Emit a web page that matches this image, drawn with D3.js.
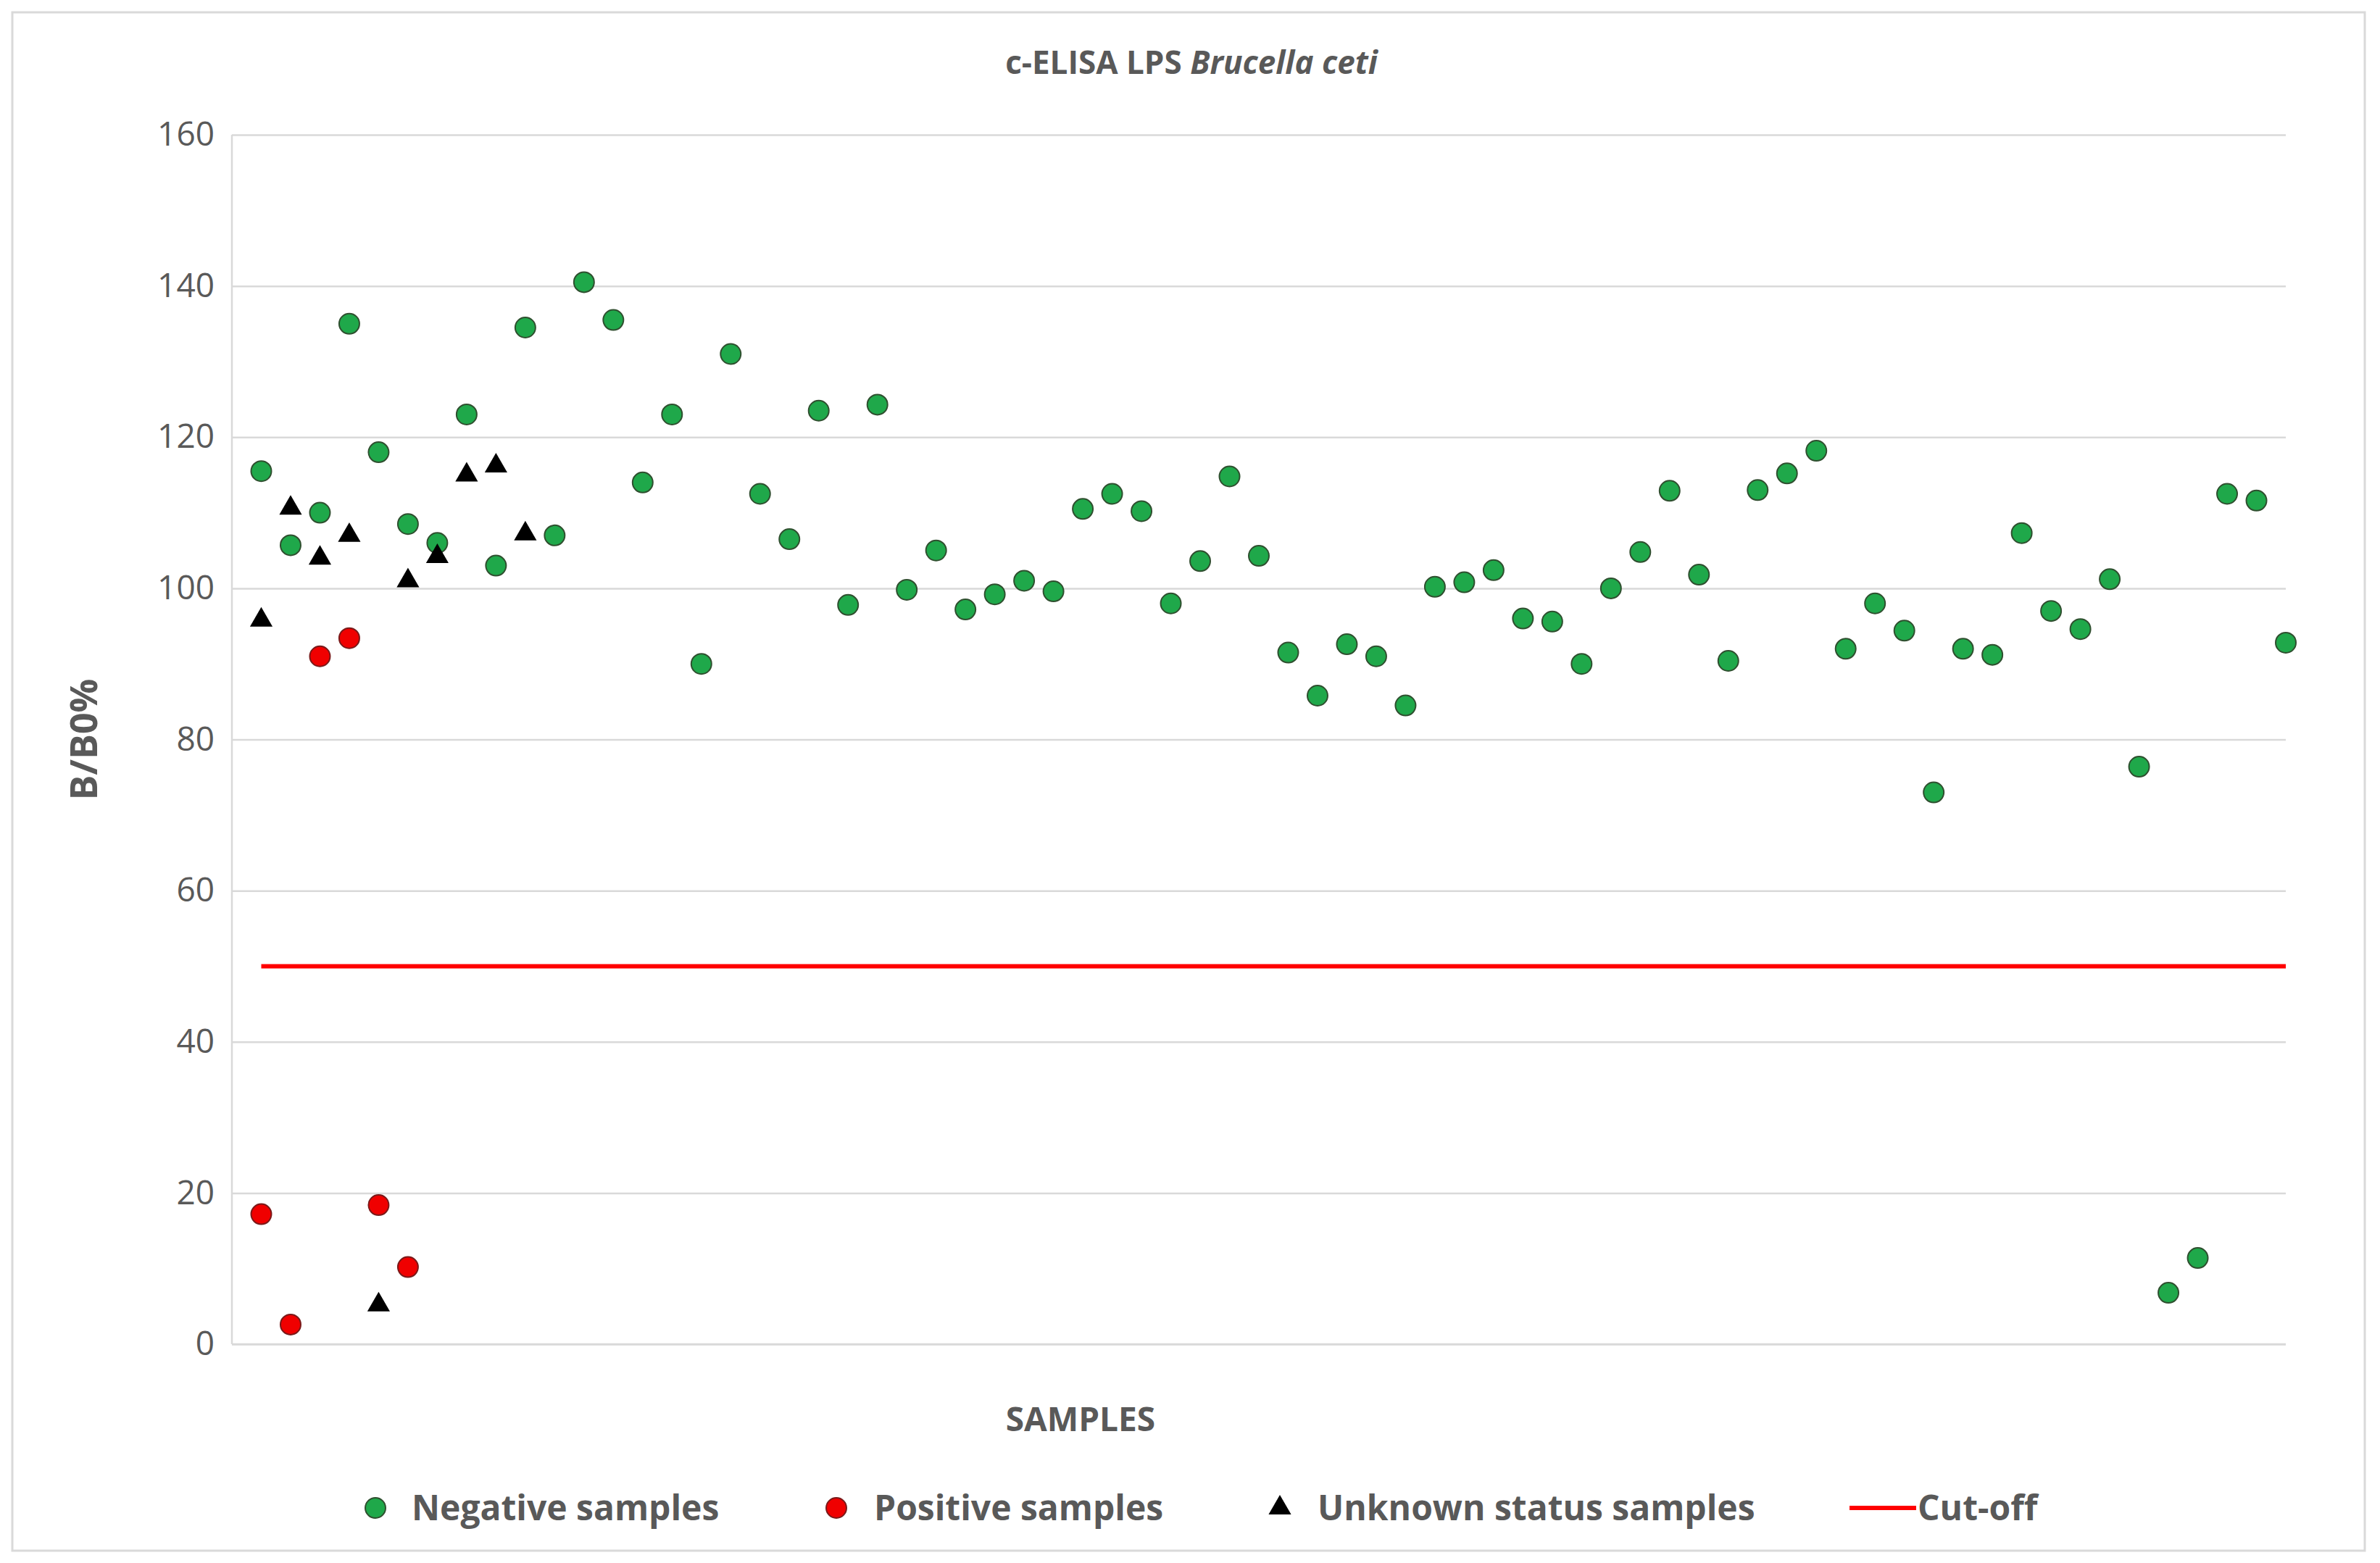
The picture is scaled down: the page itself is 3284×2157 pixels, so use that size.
<!DOCTYPE html>
<html><head><meta charset="utf-8">
<script src="https://cdn.jsdelivr.net/npm/d3@7/dist/d3.min.js"></script>
<style>body{margin:0;background:#fff}text{font-family:"Open Sans","Noto Sans",sans-serif}</style>
</head><body><svg id="c" width="3284" height="2157"></svg>
<script>
const negative = [115.5,105.7,110,135,118,108.5,106,123,103,134.5,107,140.5,135.5,114,123,90,131,112.5,106.5,123.5,97.8,124.3,99.8,105,97.2,99.2,101,99.6,110.5,112.5,110.2,98,103.6,114.8,104.3,91.5,85.8,92.6,91,84.5,100.2,100.8,102.4,96,95.6,90,100,104.8,112.9,101.8,90.4,113,115.2,118.2,92,98,94.4,73,92,91.2,107.3,97,94.6,101.2,76.4,6.8,11.4,112.5,111.6,92.8];
const positive = [17.2,2.6,91,93.4,18.4,10.2];
const unknown = [95.8,110.6,104,107,5.2,101,104.2,115,116.2,107.2];
const cutoff = 50;
const yTicks = [0,20,40,60,80,100,120,140,160];

const svg = d3.select("#c");
svg.append("rect").attr("x",17).attr("y",17).attr("width",3246).attr("height",2123).attr("fill","#fff").attr("stroke","#d9d9d9").attr("stroke-width",3);
const L=320,R=3154,T=186,B=1855;
const x = d3.scaleLinear().domain([0,70]).range([L,R]);
const y = d3.scaleLinear().domain([0,160]).range([B,T]);
const ga = svg.append("g").attr("transform",`translate(${L},0)`)
  .call(d3.axisLeft(y).tickValues(yTicks).tickSize(-(R-L)).tickPadding(24));
ga.select(".domain").remove();
ga.selectAll(".tick line").attr("stroke","#d9d9d9").attr("stroke-width",2.5);
ga.selectAll(".tick text").attr("font-size",46).attr("fill","#595959");
svg.append("line").attr("x1",L).attr("x2",L).attr("y1",T).attr("y2",B).attr("stroke","#d9d9d9").attr("stroke-width",2.5);
svg.append("line").attr("x1",L).attr("x2",R).attr("y1",B).attr("y2",B).attr("stroke","#d9d9d9").attr("stroke-width",2.5);

svg.append("line").attr("x1",x(1)).attr("x2",x(70)).attr("y1",y(cutoff)).attr("y2",y(cutoff)).attr("stroke","#ff0000").attr("stroke-width",6);

const G="#1fa84a", RD="#f00000";
svg.append("g").selectAll("circle").data(negative).join("circle")
  .attr("cx",(d,i)=>x(i+1)).attr("cy",d=>y(d)).attr("r",14).attr("fill",G).attr("stroke","#2f4f2f").attr("stroke-width",2);
svg.append("g").selectAll("circle").data(positive).join("circle")
  .attr("cx",(d,i)=>x(i+1)).attr("cy",d=>y(d)).attr("r",14).attr("fill",RD).attr("stroke","#7a1a1a").attr("stroke-width",2);
const tri=d3.symbol().type(d3.symbolTriangle).size(420);
svg.append("g").selectAll("path").data(unknown).join("path")
  .attr("d",tri).attr("transform",(d,i)=>`translate(${x(i+1)},${y(d)})`).attr("fill","#000");

const title = svg.append("text").attr("x",1644).attr("y",102).attr("text-anchor","middle").attr("font-size",44).attr("font-weight","bold").attr("fill","#595959");
title.append("tspan").text("c-ELISA LPS ");
title.append("tspan").attr("font-style","italic").text("Brucella ceti");
svg.append("text").attr("transform",`translate(134,${(T+B)/2}) rotate(-90)`).attr("text-anchor","middle").attr("font-size",52).attr("font-weight","bold").attr("fill","#595959").text("B/B0%");
svg.append("text").attr("x",1491).attr("y",1975).attr("text-anchor","middle").attr("font-size",46).attr("font-weight","bold").attr("fill","#595959").text("SAMPLES");

const ly=2081;
const lg=svg.append("g").attr("font-size",48).attr("font-weight","bold").attr("fill","#595959");
lg.append("circle").attr("cx",518).attr("cy",ly).attr("r",14).attr("fill",G).attr("stroke","#2f4f2f").attr("stroke-width",2);
lg.append("text").attr("x",568).attr("y",ly+17).text("Negative samples");
lg.append("circle").attr("cx",1154).attr("cy",ly).attr("r",14).attr("fill",RD).attr("stroke","#7a1a1a").attr("stroke-width",2);
lg.append("text").attr("x",1206).attr("y",ly+17).text("Positive samples");
lg.append("path").attr("d",tri).attr("transform",`translate(1766,${ly})`).attr("fill","#000");
lg.append("text").attr("x",1818).attr("y",ly+17).text("Unknown status samples");
lg.append("line").attr("x1",2552).attr("x2",2644).attr("y1",ly).attr("y2",ly).attr("stroke","#ff0000").attr("stroke-width",6);
lg.append("text").attr("x",2646).attr("y",ly+17).text("Cut-off");
</script></body></html>
